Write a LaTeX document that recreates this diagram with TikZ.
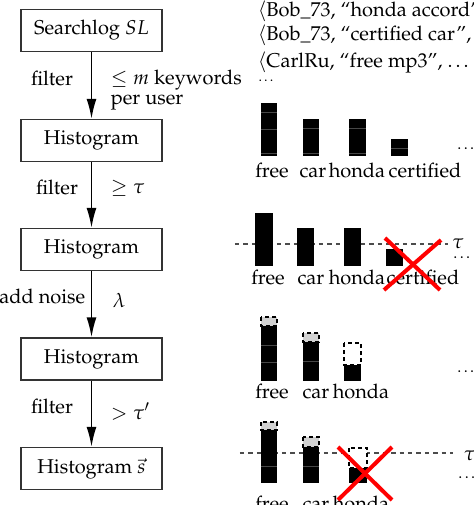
\documentclass[tikz,border=0pt]{standalone}
\usepackage[T1]{fontenc}
\usepackage{mathpazo}
\usepackage{tikz}
\usetikzlibrary{arrows.meta}
\usetikzlibrary{calc}
\usetikzlibrary{positioning}
\tikzset{every picture/.style={line width=0.8pt}}

\begin{document}
\begin{tikzpicture}[x=0.5pt,y=-0.5pt,
box/.style={draw,black!80,text=black,line width=0.6pt,minimum width=70.5pt,minimum height=21pt,inner sep=0pt},
flow/.style={-{Latex[length=10pt,width=5pt]},line width=0.9pt},
lbl/.style={inner sep=0pt},
noise/.style={draw,line width=0.6pt,dash pattern=on 2pt off 1.5pt},
unit/.style={black!72,line width=0.3pt},
thr/.style={gray!60!black,line width=0.6pt,dash pattern=on 2.2pt off 2pt},
cut/.style={red,line width=2pt}]
\useasboundingbox (0,0) rectangle (474,505);
\node (sl) at (91.5,30.5) [box] {Searchlog $SL$};
\node (h1) at (91.5,140.5) [box] {Histogram};
\node (h2) at (91.5,249.5) [box] {Histogram};
\node (h3) at (91.5,359) [box] {Histogram};
\node (hs) at (91.5,468.5) [box] {Histogram $\vec{s}$};
\draw[flow] (sl) -- (h1);
\draw[flow] (h1) -- (h2);
\draw[flow] (h2) -- (h3);
\draw[flow] (h3) -- (hs);
\node (f1) at (52,78) {filter};
\node (c1) at (110,84) [lbl,anchor=base west] {$\leq m$ keywords};
\node (c1b) at (110,104) [lbl,anchor=base west] {per user};
\node (f2) at (57,187) {filter};
\node (c2) at (110,193) [lbl,anchor=base west] {$\geq \tau$};
\node (f3) at (86,296) [lbl,anchor=east] {add noise};
\node (c3) at (112,307) [lbl,anchor=base west] {$\lambda$};
\node (f4) at (52,406) {filter};
\node (c4) at (110,419) [lbl,anchor=base west] {$> \tau'$};
\node (r1) at (257,16) [lbl,anchor=base west] {$\langle$Bob\_73, ``honda accord'', \dots$\rangle$};
\node (r2) at (257,40) [lbl,anchor=base west] {$\langle$Bob\_73, ``certified car'', \dots$\rangle$};
\node (r3) at (257,67) [lbl,anchor=base west] {$\langle$CarlRu, ``free mp3'', \dots\ $\rangle$};
\node (r4) at (267,81) [lbl,anchor=base] {\scriptsize\dots};
\foreach \a/\b/\t in {261/277/103, 303/319/119, 349/366/119, 391/408/139}
\fill (\a,\t) rectangle (\b,156);
\foreach \a/\b/\y in {261/277/112, 261/277/129, 261/277/153, 303/319/128, 303/319/153, 349/366/128, 349/366/153, 391/408/148}
\draw[unit] (\a,\y) -- (\b,\y);
\foreach \w/\x in {free/272, car/313, honda/357, certified/425}
\node (p\w) at (\x,177) [lbl,anchor=base] {\w};
\node (pd) at (467,149) [lbl] {\footnotesize\dots};
\draw[thr] (235,244) -- (448,244);
\node (t1) at (458,244) [lbl] {$\tau$};
\node (d1) at (463,258) [lbl] {\footnotesize\dots};
\foreach \a/\b/\t in {255/273/213, 297/314/228, 344/361/228, 386/403/249}
\fill (\a,\t) rectangle (\b,266);
\foreach \w/\x in {free/268, car/311, honda/357, certified/423}
\node (q\w) at (\x,284) [lbl,anchor=base] {\w};
\draw[cut] (385,238) -- (440,290);
\draw[cut] (441,240) -- (384,290);
\foreach \a/\b/\c/\t/\col in {261/277/317/326/gray!35, 303/319/333/342/gray!35, 344/361/343/365/white} {
\fill[\col] (\a,\c) rectangle (\b,\t);
\draw[noise] (\a,\c) rectangle (\b,\t);
\fill (\a,\t) rectangle (\b,381);
}
\foreach \a/\b/\y in {261/277/345, 261/277/362, 303/319/361}
\draw[unit] (\a,\y) -- (\b,\y);
\foreach \w/\x in {free/272, car/316, honda/361}
\node (s\w) at (\x,398) [lbl,anchor=base] {\w};
\node (d2) at (467,372) [lbl] {\footnotesize\dots};
\draw[thr] (240,453) -- (453,453);
\node (t2) at (463,453) [lbl,anchor=west] {$\tau'$};
\node (d3) at (468,478) [lbl] {\footnotesize\dots};
\foreach \a/\b/\c/\t/\col in {261/277/422/430/gray!35, 303/319/437/447/gray!35, 349/367/448/468/white} {
\fill[\col] (\a,\c) rectangle (\b,\t);
\draw[noise] (\a,\c) rectangle (\b,\t);
\fill (\a,\t) rectangle (\b,483);
}
\foreach \a/\b/\y in {261/277/466, 303/319/466}
\draw[unit] (\a,\y) -- (\b,\y);
\foreach \w/\x in {free/272, car/316, honda/361}
\node (u\w) at (\x,510) [lbl,anchor=base] {\w};
\draw[cut] (338,447) -- (392,500);
\draw[cut] (392,447) -- (338,500);
\end{tikzpicture}
\end{document}
